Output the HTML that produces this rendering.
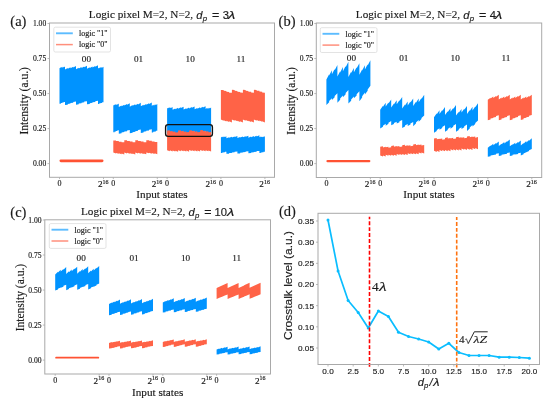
<!DOCTYPE html>
<html><head><meta charset="utf-8"><style>
html,body{margin:0;padding:0;background:#fff;}
svg{display:block;}
text{stroke:#1a1a1a;stroke-width:0.15px;}
</style></head><body>
<svg style="will-change:transform" width="550" height="406" viewBox="0 0 550 406">
<rect width="550" height="406" fill="#fff"/>
<path d="M59.5,68.2 L60.87,67.15 L60.88,67.85 L62.25,66.81 L62.25,67.81 L63.62,66.76 L63.63,67.46 L65,66.41 L65,69.61 L67.75,68.12 L67.75,68.82 L70.5,67.33 L70.5,68.32 L73.25,66.83 L73.25,67.53 L76,66.04 L76,69.24 L78.75,67.74 L78.75,68.44 L81.5,66.95 L81.5,67.95 L84.25,66.46 L84.25,67.16 L87,65.66 L87,68.86 L89.75,67.37 L89.75,68.07 L92.5,66.58 L92.5,67.57 L95.25,66.08 L95.25,66.78 L98,65.29 L98,68.49 L99.37,67.44 L99.38,68.14 L100.75,67.09 L100.75,68.09 L102.12,67.05 L102.13,67.75 L103.5,66.7 L103.5,102.2 L102.13,102.2 L102.12,102.9 L100.75,102.89 L100.75,103.29 L99.38,103.29 L99.37,103.99 L98,103.99 L98,100.79 L95.25,101.23 L95.25,101.93 L92.5,102.37 L92.5,102.78 L89.75,103.22 L89.75,103.92 L87,104.36 L87,101.16 L84.25,101.61 L84.25,102.31 L81.5,102.75 L81.5,103.15 L78.75,103.59 L78.75,104.29 L76,104.74 L76,101.54 L73.25,101.98 L73.25,102.68 L70.5,103.12 L70.5,103.53 L67.75,103.97 L67.75,104.67 L65,105.11 L65,101.91 L63.63,101.91 L63.62,102.61 L62.25,102.61 L62.25,103.01 L60.88,103 L60.87,103.7 L59.5,103.7Z" fill="#0093ff"/>
<rect x="59.5" y="159.4" width="44" height="2.8" rx="1.4" fill="#ff5233"/>
<path d="M113.3,105.5 L114.67,104.43 L114.68,105.13 L116.05,104.06 L116.05,105.06 L117.42,103.98 L117.43,104.68 L118.8,103.61 L118.8,107.01 L121.55,105.47 L121.55,106.17 L124.3,104.63 L124.3,105.62 L127.05,104.08 L127.05,104.78 L129.8,103.24 L129.8,106.64 L132.55,105.09 L132.55,105.79 L135.3,104.25 L135.3,105.25 L138.05,103.71 L138.05,104.41 L140.8,102.86 L140.8,106.26 L143.55,104.72 L143.55,105.42 L146.3,103.88 L146.3,104.87 L149.05,103.33 L149.05,104.03 L151.8,102.49 L151.8,105.89 L153.17,104.82 L153.18,105.52 L154.55,104.44 L154.55,105.44 L155.92,104.37 L155.93,105.07 L157.3,104 L157.3,130.7 L155.93,130.72 L155.92,131.42 L154.55,131.44 L154.55,131.84 L153.18,131.87 L153.17,132.57 L151.8,132.59 L151.8,129.19 L149.05,129.68 L149.05,130.38 L146.3,130.87 L146.3,131.28 L143.55,131.77 L143.55,132.47 L140.8,132.96 L140.8,129.56 L138.05,130.06 L138.05,130.76 L135.3,131.25 L135.3,131.65 L132.55,132.14 L132.55,132.84 L129.8,133.34 L129.8,129.94 L127.05,130.43 L127.05,131.13 L124.3,131.62 L124.3,132.03 L121.55,132.52 L121.55,133.22 L118.8,133.71 L118.8,130.31 L117.43,130.33 L117.42,131.03 L116.05,131.06 L116.05,131.46 L114.68,131.48 L114.67,132.18 L113.3,132.2Z" fill="#0093ff"/>
<path d="M113.3,140.4 L116.05,140.43 L116.05,141.03 L118.8,141.06 L118.8,141.66 L121.55,141.69 L121.55,142.29 L124.3,142.32 L124.3,140.33 L127.05,140.36 L127.05,140.96 L129.8,140.99 L129.8,141.59 L132.55,141.62 L132.55,142.22 L135.3,142.25 L135.3,140.25 L138.05,140.28 L138.05,140.88 L140.8,140.91 L140.8,141.51 L143.55,141.54 L143.55,142.14 L146.3,142.17 L146.3,140.18 L149.05,140.21 L149.05,140.81 L151.8,140.84 L151.8,141.44 L154.55,141.47 L154.55,142.07 L157.3,142.1 L157.3,154.3 L154.55,153.37 L154.55,153.97 L151.8,153.04 L151.8,153.64 L149.05,152.71 L149.05,153.31 L146.3,152.38 L146.3,154.37 L143.55,153.44 L143.55,154.04 L140.8,153.11 L140.8,153.71 L138.05,152.78 L138.05,153.38 L135.3,152.45 L135.3,154.45 L132.55,153.52 L132.55,154.12 L129.8,153.19 L129.8,153.79 L127.05,152.86 L127.05,153.46 L124.3,152.53 L124.3,154.52 L121.55,153.59 L121.55,154.19 L118.8,153.26 L118.8,153.86 L116.05,152.93 L116.05,153.53 L113.3,152.6Z" fill="#ff6347"/>
<path d="M167.1,108.5 L168.47,107.49 L168.48,108.19 L169.85,107.19 L169.85,108.19 L171.22,107.18 L171.23,107.88 L172.6,106.88 L172.6,109.87 L175.35,108.46 L175.35,109.16 L178.1,107.75 L178.1,108.75 L180.85,107.34 L180.85,108.04 L183.6,106.63 L183.6,109.62 L186.35,108.21 L186.35,108.91 L189.1,107.5 L189.1,108.5 L191.85,107.09 L191.85,107.79 L194.6,106.38 L194.6,109.37 L197.35,107.96 L197.35,108.66 L200.1,107.25 L200.1,108.25 L202.85,106.84 L202.85,107.54 L205.6,106.13 L205.6,109.12 L206.97,108.12 L206.98,108.82 L208.35,107.81 L208.35,108.81 L209.72,107.81 L209.73,108.51 L211.1,107.5 L211.1,132.7 L209.73,132.66 L209.72,133.36 L208.35,133.31 L208.35,133.71 L206.98,133.67 L206.97,134.37 L205.6,134.33 L205.6,131.33 L202.85,131.69 L202.85,132.39 L200.1,132.75 L200.1,133.15 L197.35,133.51 L197.35,134.21 L194.6,134.57 L194.6,131.58 L191.85,131.94 L191.85,132.64 L189.1,133 L189.1,133.4 L186.35,133.76 L186.35,134.46 L183.6,134.82 L183.6,131.83 L180.85,132.19 L180.85,132.89 L178.1,133.25 L178.1,133.65 L175.35,134.01 L175.35,134.71 L172.6,135.07 L172.6,132.07 L171.23,132.03 L171.22,132.73 L169.85,132.69 L169.85,133.09 L168.48,133.04 L168.47,133.74 L167.1,133.7Z" fill="#0093ff"/>
<path d="M167.1,130.6 L169.85,130.31 L169.85,131.21 L172.6,130.91 L172.6,131.81 L175.35,131.52 L175.35,132.42 L178.1,132.13 L178.1,130.52 L180.85,130.23 L180.85,131.13 L183.6,130.84 L183.6,131.74 L186.35,131.44 L186.35,132.34 L189.1,132.05 L189.1,130.45 L191.85,130.16 L191.85,131.06 L194.6,130.76 L194.6,131.66 L197.35,131.37 L197.35,132.27 L200.1,131.98 L200.1,130.37 L202.85,130.08 L202.85,130.98 L205.6,130.69 L205.6,131.59 L208.35,131.29 L208.35,132.19 L211.1,131.9 L211.1,151.5 L208.35,150.44 L208.35,151.34 L205.6,150.29 L205.6,151.19 L202.85,150.13 L202.85,151.03 L200.1,149.98 L200.1,151.57 L197.35,150.52 L197.35,151.42 L194.6,150.36 L194.6,151.26 L191.85,150.21 L191.85,151.11 L189.1,150.05 L189.1,151.65 L186.35,150.59 L186.35,151.49 L183.6,150.44 L183.6,151.34 L180.85,150.28 L180.85,151.18 L178.1,150.13 L178.1,151.72 L175.35,150.67 L175.35,151.57 L172.6,150.51 L172.6,151.41 L169.85,150.36 L169.85,151.26 L167.1,150.2Z" fill="#ff6347"/>
<path d="M220.9,89.9 L223.65,90.11 L223.65,90.81 L226.4,91.02 L226.4,91.73 L229.15,91.94 L229.15,92.64 L231.9,92.85 L231.9,89.85 L234.65,90.06 L234.65,90.76 L237.4,90.97 L237.4,91.68 L240.15,91.89 L240.15,92.59 L242.9,92.8 L242.9,89.8 L245.65,90.01 L245.65,90.71 L248.4,90.92 L248.4,91.63 L251.15,91.84 L251.15,92.54 L253.9,92.75 L253.9,89.75 L256.65,89.96 L256.65,90.66 L259.4,90.87 L259.4,91.58 L262.15,91.79 L262.15,92.49 L264.9,92.7 L264.9,122.4 L262.15,121.14 L262.15,121.84 L259.4,120.58 L259.4,121.27 L256.65,120.01 L256.65,120.71 L253.9,119.45 L253.9,122.45 L251.15,121.19 L251.15,121.89 L248.4,120.63 L248.4,121.32 L245.65,120.06 L245.65,120.76 L242.9,119.5 L242.9,122.5 L240.15,121.24 L240.15,121.94 L237.4,120.68 L237.4,121.37 L234.65,120.11 L234.65,120.81 L231.9,119.55 L231.9,122.55 L229.15,121.29 L229.15,121.99 L226.4,120.73 L226.4,121.42 L223.65,120.16 L223.65,120.86 L220.9,119.6Z" fill="#ff6347"/>
<path d="M220.9,137.4 L222.27,136.61 L222.28,137.21 L223.65,136.43 L223.65,137.22 L225.02,136.44 L225.03,137.04 L226.4,136.25 L226.4,138.25 L229.15,137.18 L229.15,137.77 L231.9,136.7 L231.9,137.5 L234.65,136.43 L234.65,137.02 L237.4,135.95 L237.4,137.95 L240.15,136.88 L240.15,137.47 L242.9,136.4 L242.9,137.2 L245.65,136.13 L245.65,136.72 L248.4,135.65 L248.4,137.65 L251.15,136.58 L251.15,137.17 L253.9,136.1 L253.9,136.9 L256.65,135.83 L256.65,136.42 L259.4,135.35 L259.4,137.35 L260.77,136.56 L260.78,137.16 L262.15,136.38 L262.15,137.17 L263.52,136.39 L263.53,136.99 L264.9,136.2 L264.9,151.8 L263.53,151.69 L263.52,152.29 L262.15,152.18 L262.15,152.57 L260.78,152.46 L260.77,153.06 L259.4,152.95 L259.4,150.95 L256.65,151.12 L256.65,151.73 L253.9,151.9 L253.9,152.3 L251.15,152.47 L251.15,153.08 L248.4,153.25 L248.4,151.25 L245.65,151.42 L245.65,152.03 L242.9,152.2 L242.9,152.6 L240.15,152.77 L240.15,153.38 L237.4,153.55 L237.4,151.55 L234.65,151.72 L234.65,152.33 L231.9,152.5 L231.9,152.9 L229.15,153.07 L229.15,153.68 L226.4,153.85 L226.4,151.85 L225.03,151.74 L225.02,152.34 L223.65,152.23 L223.65,152.62 L222.28,152.51 L222.27,153.11 L220.9,153Z" fill="#0093ff"/>
<rect x="165.6" y="124.6" width="46.8" height="11.8" rx="2.6" fill="none" stroke="#111" stroke-width="1.4"/>
<rect x="49.5" y="23" width="225" height="154.3" fill="none" stroke="#a9a9a9" stroke-width="1"/>
<line x1="47.5" y1="163.6" x2="49.5" y2="163.6" stroke="#a9a9a9" stroke-width="0.8"/>
<text x="46.2" y="166.1" font-family="'Liberation Serif', serif" font-size="7.6" text-anchor="end" font-style="normal" fill="#1a1a1a" >0.00</text>
<line x1="47.5" y1="128.57" x2="49.5" y2="128.57" stroke="#a9a9a9" stroke-width="0.8"/>
<text x="46.2" y="131.07" font-family="'Liberation Serif', serif" font-size="7.6" text-anchor="end" font-style="normal" fill="#1a1a1a" >0.25</text>
<line x1="47.5" y1="93.55" x2="49.5" y2="93.55" stroke="#a9a9a9" stroke-width="0.8"/>
<text x="46.2" y="96.05" font-family="'Liberation Serif', serif" font-size="7.6" text-anchor="end" font-style="normal" fill="#1a1a1a" >0.50</text>
<line x1="47.5" y1="58.53" x2="49.5" y2="58.53" stroke="#a9a9a9" stroke-width="0.8"/>
<text x="46.2" y="61.03" font-family="'Liberation Serif', serif" font-size="7.6" text-anchor="end" font-style="normal" fill="#1a1a1a" >0.75</text>
<line x1="47.5" y1="23.5" x2="49.5" y2="23.5" stroke="#a9a9a9" stroke-width="0.8"/>
<text x="46.2" y="26" font-family="'Liberation Serif', serif" font-size="7.6" text-anchor="end" font-style="normal" fill="#1a1a1a" >1.00</text>
<line x1="59.5" y1="177.3" x2="59.5" y2="179.1" stroke="#a9a9a9" stroke-width="0.8"/>
<line x1="103.5" y1="177.3" x2="103.5" y2="179.1" stroke="#a9a9a9" stroke-width="0.8"/>
<text x="59.5" y="186.1" font-family="'Liberation Serif', serif" font-size="8" text-anchor="middle" font-style="normal" fill="#1a1a1a" >0</text>
<text x="97.9" y="187.1" font-family="'Liberation Serif', serif" font-size="9.2" fill="#1a1a1a">2<tspan font-size="6" dy="-3.6">16</tspan></text>
<line x1="113.3" y1="177.3" x2="113.3" y2="179.1" stroke="#a9a9a9" stroke-width="0.8"/>
<line x1="157.3" y1="177.3" x2="157.3" y2="179.1" stroke="#a9a9a9" stroke-width="0.8"/>
<text x="113.3" y="186.1" font-family="'Liberation Serif', serif" font-size="8" text-anchor="middle" font-style="normal" fill="#1a1a1a" >0</text>
<text x="151.7" y="187.1" font-family="'Liberation Serif', serif" font-size="9.2" fill="#1a1a1a">2<tspan font-size="6" dy="-3.6">16</tspan></text>
<line x1="167.1" y1="177.3" x2="167.1" y2="179.1" stroke="#a9a9a9" stroke-width="0.8"/>
<line x1="211.1" y1="177.3" x2="211.1" y2="179.1" stroke="#a9a9a9" stroke-width="0.8"/>
<text x="167.1" y="186.1" font-family="'Liberation Serif', serif" font-size="8" text-anchor="middle" font-style="normal" fill="#1a1a1a" >0</text>
<text x="205.5" y="187.1" font-family="'Liberation Serif', serif" font-size="9.2" fill="#1a1a1a">2<tspan font-size="6" dy="-3.6">16</tspan></text>
<line x1="220.9" y1="177.3" x2="220.9" y2="179.1" stroke="#a9a9a9" stroke-width="0.8"/>
<line x1="264.9" y1="177.3" x2="264.9" y2="179.1" stroke="#a9a9a9" stroke-width="0.8"/>
<text x="220.9" y="186.1" font-family="'Liberation Serif', serif" font-size="8" text-anchor="middle" font-style="normal" fill="#1a1a1a" >0</text>
<text x="259.3" y="187.1" font-family="'Liberation Serif', serif" font-size="9.2" fill="#1a1a1a">2<tspan font-size="6" dy="-3.6">16</tspan></text>
<text x="81.8" y="61.7" font-family="'Liberation Serif', serif" font-size="9.2" text-anchor="start" font-style="normal" fill="#1a1a1a" >00</text>
<text x="134" y="61.7" font-family="'Liberation Serif', serif" font-size="9.2" text-anchor="start" font-style="normal" fill="#1a1a1a" >01</text>
<text x="185.6" y="61.7" font-family="'Liberation Serif', serif" font-size="9.2" text-anchor="start" font-style="normal" fill="#1a1a1a" >10</text>
<text x="236.6" y="61.7" font-family="'Liberation Serif', serif" font-size="9.2" text-anchor="start" font-style="normal" fill="#1a1a1a" >11</text>
<text x="10.3" y="26" font-family="'Liberation Serif', serif" font-size="14.5" text-anchor="start" font-style="normal" fill="#1a1a1a" >(a)</text>
<text x="88.8" y="18.2" font-family="'Liberation Serif', serif" font-size="11.2" text-anchor="start" font-style="normal" fill="#1a1a1a" >Logic pixel M=2, N=2,</text>
<text x="196.3" y="18.6" font-family="'Liberation Sans', sans-serif" font-size="11.2" text-anchor="start" font-style="italic" fill="#1a1a1a" >d</text>
<text x="202.8" y="21.1" font-family="'Liberation Sans', sans-serif" font-size="7.8" text-anchor="start" font-style="italic" fill="#1a1a1a" >p</text>
<text x="212" y="18.7" font-family="'Liberation Sans', sans-serif" font-size="11.2" fill="#1a1a1a" textLength="7.3" lengthAdjust="spacingAndGlyphs">=</text>
<text x="222.8" y="18.7" font-family="'Liberation Sans', sans-serif" font-size="11.2" text-anchor="start" font-style="normal" fill="#1a1a1a" >3</text>
<text x="228.1" y="18.7" font-family="'Liberation Sans', sans-serif" font-size="11.2" font-style="italic" fill="#1a1a1a" textLength="7.3" lengthAdjust="spacingAndGlyphs">λ</text>
<text x="0" y="0" transform="translate(28.2,100.85) rotate(-90)" font-family="'Liberation Serif', serif" font-size="11.5" text-anchor="middle" fill="#1a1a1a">Intensity (a.u.)</text>
<text x="162" y="198.1" font-family="'Liberation Serif', serif" font-size="11.2" text-anchor="middle" font-style="normal" fill="#1a1a1a" >Input states</text>
<rect x="53.8" y="27.2" width="56.7" height="24.8" rx="1.5" fill="#fff" fill-opacity="0.8" stroke="#dcdcdc" stroke-width="0.8"/>
<line x1="56" y1="33.3" x2="72.8" y2="33.3" stroke="#5cbcff" stroke-width="1.9"/>
<line x1="56" y1="44.6" x2="72.8" y2="44.6" stroke="#ff8f7c" stroke-width="1.5"/>
<text x="79" y="36.4" font-family="'Liberation Serif', serif" font-size="8" text-anchor="start" font-style="normal" fill="#1a1a1a" >logic "1"</text>
<text x="79" y="47.4" font-family="'Liberation Serif', serif" font-size="8" text-anchor="start" font-style="normal" fill="#1a1a1a" >logic "0"</text>
<path d="M326.4,79.6 L329.15,74.28 L329.15,75.47 L331.9,70.15 L331.9,74.35 L334.65,69.03 L334.65,70.22 L337.4,64.9 L337.4,76.6 L340.15,71.25 L340.15,72.45 L342.9,67.1 L342.9,71.3 L345.65,65.95 L345.65,67.15 L348.4,61.8 L348.4,76.9 L351.15,71.85 L351.15,73.05 L353.9,68 L353.9,72.2 L356.65,67.15 L356.65,68.35 L359.4,63.3 L359.4,74.7 L362.15,69.43 L362.15,70.62 L364.9,65.35 L364.9,69.55 L367.65,64.28 L367.65,65.47 L370.4,60.2 L370.4,85.7 L367.65,89.45 L367.65,90.65 L364.9,94.4 L364.9,92.6 L362.15,96.35 L362.15,97.55 L359.4,101.3 L359.4,91.3 L356.65,94.22 L356.65,95.43 L353.9,98.35 L353.9,96.55 L351.15,99.47 L351.15,100.68 L348.4,103.6 L348.4,90 L345.65,93.02 L345.65,94.23 L342.9,97.25 L342.9,95.45 L340.15,98.47 L340.15,99.68 L337.4,102.7 L337.4,93.2 L334.65,96 L334.65,97.2 L331.9,100 L331.9,98.2 L329.15,101 L329.15,102.2 L326.4,105Z" fill="#0093ff"/>
<rect x="326.4" y="159.9" width="44" height="2.4" rx="1.2" fill="#ff5233"/>
<path d="M380.2,109.8 L382.95,105.78 L382.95,106.77 L385.7,102.75 L385.7,106.55 L388.45,102.53 L388.45,103.52 L391.2,99.5 L391.2,107.4 L393.95,103.38 L393.95,104.37 L396.7,100.35 L396.7,104.15 L399.45,100.13 L399.45,101.12 L402.2,97.1 L402.2,108.4 L404.95,104.5 L404.95,105.5 L407.7,101.6 L407.7,105.4 L410.45,101.5 L410.45,102.5 L413.2,98.6 L413.2,106 L415.95,101.75 L415.95,102.75 L418.7,98.5 L418.7,102.3 L421.45,98.05 L421.45,99.05 L424.2,94.8 L424.2,115.4 L421.45,118.05 L421.45,119.05 L418.7,121.7 L418.7,119.9 L415.95,122.55 L415.95,123.55 L413.2,126.2 L413.2,122 L410.45,123.45 L410.45,124.45 L407.7,125.9 L407.7,124.1 L404.95,125.55 L404.95,126.55 L402.2,128 L402.2,120.1 L399.45,121.32 L399.45,122.33 L396.7,123.55 L396.7,121.75 L393.95,122.97 L393.95,123.98 L391.2,125.2 L391.2,121 L388.45,122.82 L388.45,123.83 L385.7,125.65 L385.7,123.85 L382.95,125.67 L382.95,126.68 L380.2,128.5Z" fill="#0093ff"/>
<path d="M380.2,146.8 L382.95,146.21 L382.95,147.41 L385.7,146.83 L385.7,147.22 L388.45,146.64 L388.45,147.84 L391.2,147.25 L391.2,146.05 L393.95,145.46 L393.95,146.66 L396.7,146.08 L396.7,146.47 L399.45,145.89 L399.45,147.09 L402.2,146.5 L402.2,145.3 L404.95,144.71 L404.95,145.91 L407.7,145.33 L407.7,145.72 L410.45,145.14 L410.45,146.34 L413.2,145.75 L413.2,144.55 L415.95,143.96 L415.95,145.16 L418.7,144.58 L418.7,144.97 L421.45,144.39 L421.45,145.59 L424.2,145 L424.2,153.6 L421.45,152.39 L421.45,153.59 L418.7,152.38 L418.7,154.37 L415.95,153.16 L415.95,154.36 L413.2,153.15 L413.2,154.35 L410.45,153.14 L410.45,154.34 L407.7,153.13 L407.7,155.12 L404.95,153.91 L404.95,155.11 L402.2,153.9 L402.2,155.1 L399.45,153.89 L399.45,155.09 L396.7,153.88 L396.7,155.87 L393.95,154.66 L393.95,155.86 L391.2,154.65 L391.2,155.85 L388.45,154.64 L388.45,155.84 L385.7,154.63 L385.7,156.62 L382.95,155.41 L382.95,156.61 L380.2,155.4Z" fill="#ff6347"/>
<path d="M434,117.3 L436.75,113.33 L436.75,114.32 L439.5,110.35 L439.5,113.95 L442.25,109.98 L442.25,110.97 L445,107 L445,115 L447.75,111.13 L447.75,112.12 L450.5,108.25 L450.5,111.85 L453.25,107.98 L453.25,108.97 L456,105.1 L456,115.4 L458.75,111.68 L458.75,112.67 L461.5,108.95 L461.5,112.55 L464.25,108.83 L464.25,109.82 L467,106.1 L467,114 L469.75,109.93 L469.75,110.92 L472.5,106.85 L472.5,110.45 L475.25,106.38 L475.25,107.37 L478,103.3 L478,120.6 L475.25,123.07 L475.25,124.08 L472.5,126.55 L472.5,124.95 L469.75,127.42 L469.75,128.43 L467,130.9 L467,124.5 L464.25,126.22 L464.25,127.23 L461.5,128.95 L461.5,127.35 L458.75,129.07 L458.75,130.08 L456,131.8 L456,123.9 L453.25,125.77 L453.25,126.78 L450.5,128.65 L450.5,127.05 L447.75,128.92 L447.75,129.93 L445,131.8 L445,125.3 L442.25,127.07 L442.25,128.08 L439.5,129.85 L439.5,128.25 L436.75,130.02 L436.75,131.03 L434,132.8Z" fill="#0093ff"/>
<path d="M434,138.6 L436.75,138.05 L436.75,139.25 L439.5,138.7 L439.5,139.1 L442.25,138.55 L442.25,139.75 L445,139.2 L445,137.9 L447.75,137.35 L447.75,138.55 L450.5,138 L450.5,138.4 L453.25,137.85 L453.25,139.05 L456,138.5 L456,137.2 L458.75,136.65 L458.75,137.85 L461.5,137.3 L461.5,137.7 L464.25,137.15 L464.25,138.35 L467,137.8 L467,136.5 L469.75,135.95 L469.75,137.15 L472.5,136.6 L472.5,137 L475.25,136.45 L475.25,137.65 L478,137.1 L478,149.2 L475.25,147.95 L475.25,149.15 L472.5,147.9 L472.5,149.9 L469.75,148.65 L469.75,149.85 L467,148.6 L467,149.9 L464.25,148.65 L464.25,149.85 L461.5,148.6 L461.5,150.6 L458.75,149.35 L458.75,150.55 L456,149.3 L456,150.6 L453.25,149.35 L453.25,150.55 L450.5,149.3 L450.5,151.3 L447.75,150.05 L447.75,151.25 L445,150 L445,151.3 L442.25,150.05 L442.25,151.25 L439.5,150 L439.5,152 L436.75,150.75 L436.75,151.95 L434,150.7Z" fill="#ff6347"/>
<path d="M487.8,99.8 L490.55,97.73 L490.55,98.62 L493.3,96.55 L493.3,98.05 L496.05,95.98 L496.05,96.87 L498.8,94.8 L498.8,99.6 L501.55,97.58 L501.55,98.47 L504.3,96.45 L504.3,97.95 L507.05,95.93 L507.05,96.82 L509.8,94.8 L509.8,99.6 L512.55,97.58 L512.55,98.47 L515.3,96.45 L515.3,97.95 L518.05,95.93 L518.05,96.82 L520.8,94.8 L520.8,99.5 L523.55,97.5 L523.55,98.4 L526.3,96.4 L526.3,97.9 L529.05,95.9 L529.05,96.8 L531.8,94.8 L531.8,115 L529.05,115.72 L529.05,116.63 L526.3,117.35 L526.3,117.65 L523.55,118.37 L523.55,119.28 L520.8,120 L520.8,115.3 L518.05,116 L518.05,116.9 L515.3,117.6 L515.3,117.9 L512.55,118.6 L512.55,119.5 L509.8,120.2 L509.8,115.3 L507.05,116 L507.05,116.9 L504.3,117.6 L504.3,117.9 L501.55,118.6 L501.55,119.5 L498.8,120.2 L498.8,115.3 L496.05,116 L496.05,116.9 L493.3,117.6 L493.3,117.9 L490.55,118.6 L490.55,119.5 L487.8,120.2Z" fill="#ff6347"/>
<path d="M487.8,147.7 L490.55,145.4 L490.55,146.1 L493.3,143.8 L493.3,145.3 L496.05,143 L496.05,143.7 L498.8,141.4 L498.8,146 L501.55,143.65 L501.55,144.35 L504.3,142 L504.3,143.5 L507.05,141.15 L507.05,141.85 L509.8,139.5 L509.8,146.3 L512.55,144.13 L512.55,144.82 L515.3,142.65 L515.3,144.15 L518.05,141.98 L518.05,142.67 L520.8,140.5 L520.8,145.5 L523.55,142.95 L523.55,143.65 L526.3,141.1 L526.3,142.6 L529.05,140.05 L529.05,140.75 L531.8,138.2 L531.8,149 L529.05,150.3 L529.05,151 L526.3,152.3 L526.3,152.2 L523.55,153.5 L523.55,154.2 L520.8,155.5 L520.8,152.8 L518.05,153.27 L518.05,153.98 L515.3,154.45 L515.3,154.35 L512.55,154.82 L512.55,155.53 L509.8,156 L509.8,152.5 L507.05,153.05 L507.05,153.75 L504.3,154.3 L504.3,154.2 L501.55,154.75 L501.55,155.45 L498.8,156 L498.8,153.2 L496.05,153.77 L496.05,154.48 L493.3,155.05 L493.3,154.95 L490.55,155.52 L490.55,156.23 L487.8,156.8Z" fill="#0093ff"/>
<rect x="316.3" y="23" width="225.4" height="154.5" fill="none" stroke="#a9a9a9" stroke-width="1"/>
<line x1="314.3" y1="163.6" x2="316.3" y2="163.6" stroke="#a9a9a9" stroke-width="0.8"/>
<text x="313" y="166.1" font-family="'Liberation Serif', serif" font-size="7.6" text-anchor="end" font-style="normal" fill="#1a1a1a" >0.00</text>
<line x1="314.3" y1="128.57" x2="316.3" y2="128.57" stroke="#a9a9a9" stroke-width="0.8"/>
<text x="313" y="131.07" font-family="'Liberation Serif', serif" font-size="7.6" text-anchor="end" font-style="normal" fill="#1a1a1a" >0.25</text>
<line x1="314.3" y1="93.55" x2="316.3" y2="93.55" stroke="#a9a9a9" stroke-width="0.8"/>
<text x="313" y="96.05" font-family="'Liberation Serif', serif" font-size="7.6" text-anchor="end" font-style="normal" fill="#1a1a1a" >0.50</text>
<line x1="314.3" y1="58.53" x2="316.3" y2="58.53" stroke="#a9a9a9" stroke-width="0.8"/>
<text x="313" y="61.03" font-family="'Liberation Serif', serif" font-size="7.6" text-anchor="end" font-style="normal" fill="#1a1a1a" >0.75</text>
<line x1="314.3" y1="23.5" x2="316.3" y2="23.5" stroke="#a9a9a9" stroke-width="0.8"/>
<text x="313" y="26" font-family="'Liberation Serif', serif" font-size="7.6" text-anchor="end" font-style="normal" fill="#1a1a1a" >1.00</text>
<line x1="326.4" y1="177.5" x2="326.4" y2="179.3" stroke="#a9a9a9" stroke-width="0.8"/>
<line x1="370.4" y1="177.5" x2="370.4" y2="179.3" stroke="#a9a9a9" stroke-width="0.8"/>
<text x="326.4" y="186.3" font-family="'Liberation Serif', serif" font-size="8" text-anchor="middle" font-style="normal" fill="#1a1a1a" >0</text>
<text x="364.8" y="187.3" font-family="'Liberation Serif', serif" font-size="9.2" fill="#1a1a1a">2<tspan font-size="6" dy="-3.6">16</tspan></text>
<line x1="380.2" y1="177.5" x2="380.2" y2="179.3" stroke="#a9a9a9" stroke-width="0.8"/>
<line x1="424.2" y1="177.5" x2="424.2" y2="179.3" stroke="#a9a9a9" stroke-width="0.8"/>
<text x="380.2" y="186.3" font-family="'Liberation Serif', serif" font-size="8" text-anchor="middle" font-style="normal" fill="#1a1a1a" >0</text>
<text x="418.6" y="187.3" font-family="'Liberation Serif', serif" font-size="9.2" fill="#1a1a1a">2<tspan font-size="6" dy="-3.6">16</tspan></text>
<line x1="434" y1="177.5" x2="434" y2="179.3" stroke="#a9a9a9" stroke-width="0.8"/>
<line x1="478" y1="177.5" x2="478" y2="179.3" stroke="#a9a9a9" stroke-width="0.8"/>
<text x="434" y="186.3" font-family="'Liberation Serif', serif" font-size="8" text-anchor="middle" font-style="normal" fill="#1a1a1a" >0</text>
<text x="472.4" y="187.3" font-family="'Liberation Serif', serif" font-size="9.2" fill="#1a1a1a">2<tspan font-size="6" dy="-3.6">16</tspan></text>
<line x1="487.8" y1="177.5" x2="487.8" y2="179.3" stroke="#a9a9a9" stroke-width="0.8"/>
<line x1="531.8" y1="177.5" x2="531.8" y2="179.3" stroke="#a9a9a9" stroke-width="0.8"/>
<text x="487.8" y="186.3" font-family="'Liberation Serif', serif" font-size="8" text-anchor="middle" font-style="normal" fill="#1a1a1a" >0</text>
<text x="526.2" y="187.3" font-family="'Liberation Serif', serif" font-size="9.2" fill="#1a1a1a">2<tspan font-size="6" dy="-3.6">16</tspan></text>
<text x="346.8" y="61.3" font-family="'Liberation Serif', serif" font-size="9.2" text-anchor="start" font-style="normal" fill="#1a1a1a" >00</text>
<text x="399.2" y="61.3" font-family="'Liberation Serif', serif" font-size="9.2" text-anchor="start" font-style="normal" fill="#1a1a1a" >01</text>
<text x="450.6" y="61.3" font-family="'Liberation Serif', serif" font-size="9.2" text-anchor="start" font-style="normal" fill="#1a1a1a" >10</text>
<text x="501.6" y="61.3" font-family="'Liberation Serif', serif" font-size="9.2" text-anchor="start" font-style="normal" fill="#1a1a1a" >11</text>
<text x="278.6" y="26" font-family="'Liberation Serif', serif" font-size="14.5" text-anchor="start" font-style="normal" fill="#1a1a1a" >(b)</text>
<text x="355.8" y="18.2" font-family="'Liberation Serif', serif" font-size="11.2" text-anchor="start" font-style="normal" fill="#1a1a1a" >Logic pixel M=2, N=2,</text>
<text x="463.3" y="18.6" font-family="'Liberation Sans', sans-serif" font-size="11.2" text-anchor="start" font-style="italic" fill="#1a1a1a" >d</text>
<text x="469.8" y="21.1" font-family="'Liberation Sans', sans-serif" font-size="7.8" text-anchor="start" font-style="italic" fill="#1a1a1a" >p</text>
<text x="479" y="18.7" font-family="'Liberation Sans', sans-serif" font-size="11.2" fill="#1a1a1a" textLength="7.3" lengthAdjust="spacingAndGlyphs">=</text>
<text x="489.8" y="18.7" font-family="'Liberation Sans', sans-serif" font-size="11.2" text-anchor="start" font-style="normal" fill="#1a1a1a" >4</text>
<text x="495.1" y="18.7" font-family="'Liberation Sans', sans-serif" font-size="11.2" font-style="italic" fill="#1a1a1a" textLength="7.3" lengthAdjust="spacingAndGlyphs">λ</text>
<text x="0" y="0" transform="translate(294.6,100.95) rotate(-90)" font-family="'Liberation Serif', serif" font-size="11.5" text-anchor="middle" fill="#1a1a1a">Intensity (a.u.)</text>
<text x="429" y="198.1" font-family="'Liberation Serif', serif" font-size="11.2" text-anchor="middle" font-style="normal" fill="#1a1a1a" >Input states</text>
<rect x="320.3" y="27.7" width="56.7" height="24.8" rx="1.5" fill="#fff" fill-opacity="0.8" stroke="#dcdcdc" stroke-width="0.8"/>
<line x1="322.5" y1="33.8" x2="339.3" y2="33.8" stroke="#5cbcff" stroke-width="1.9"/>
<line x1="322.5" y1="45.1" x2="339.3" y2="45.1" stroke="#ff8f7c" stroke-width="1.5"/>
<text x="345.5" y="36.9" font-family="'Liberation Serif', serif" font-size="8" text-anchor="start" font-style="normal" fill="#1a1a1a" >logic "1"</text>
<text x="345.5" y="47.9" font-family="'Liberation Serif', serif" font-size="8" text-anchor="start" font-style="normal" fill="#1a1a1a" >logic "0"</text>
<path d="M55.2,274.4 L57.95,271.71 L57.95,272.51 L60.7,269.81 L60.7,271.61 L63.45,268.92 L63.45,269.72 L66.2,267.03 L66.2,274.02 L68.95,271.33 L68.95,272.13 L71.7,269.44 L71.7,271.24 L74.45,268.54 L74.45,269.34 L77.2,266.65 L77.2,273.65 L79.95,270.96 L79.95,271.76 L82.7,269.06 L82.7,270.86 L85.45,268.17 L85.45,268.97 L88.2,266.28 L88.2,273.27 L90.95,270.58 L90.95,271.38 L93.7,268.69 L93.7,270.49 L96.45,267.79 L96.45,268.59 L99.2,265.9 L99.2,283.6 L96.45,284.72 L96.45,285.52 L93.7,286.64 L93.7,286.44 L90.95,287.56 L90.95,288.36 L88.2,289.47 L88.2,283.98 L85.45,285.09 L85.45,285.89 L82.7,287.01 L82.7,286.81 L79.95,287.93 L79.95,288.73 L77.2,289.85 L77.2,284.35 L74.45,285.47 L74.45,286.27 L71.7,287.39 L71.7,287.19 L68.95,288.31 L68.95,289.11 L66.2,290.22 L66.2,284.73 L63.45,285.84 L63.45,286.64 L60.7,287.76 L60.7,287.56 L57.95,288.68 L57.95,289.48 L55.2,290.6Z" fill="#0093ff"/>
<rect x="55.2" y="356.8" width="44" height="1.8" rx="0.9" fill="#ff5233"/>
<path d="M109,304.1 L111.75,302.44 L111.75,303.04 L114.5,301.38 L114.5,302.27 L117.25,300.61 L117.25,301.21 L120,299.55 L120,303.85 L122.75,302.19 L122.75,302.79 L125.5,301.13 L125.5,302.02 L128.25,300.36 L128.25,300.96 L131,299.3 L131,303.6 L133.75,301.94 L133.75,302.54 L136.5,300.88 L136.5,301.77 L139.25,300.11 L139.25,300.71 L142,299.05 L142,303.35 L144.75,301.69 L144.75,302.29 L147.5,300.63 L147.5,301.52 L150.25,299.86 L150.25,300.46 L153,298.8 L153,311 L150.25,311.49 L150.25,312.09 L147.5,312.57 L147.5,312.88 L144.75,313.36 L144.75,313.96 L142,314.45 L142,311.25 L139.25,311.74 L139.25,312.34 L136.5,312.82 L136.5,313.13 L133.75,313.61 L133.75,314.21 L131,314.7 L131,311.5 L128.25,311.99 L128.25,312.59 L125.5,313.07 L125.5,313.38 L122.75,313.86 L122.75,314.46 L120,314.95 L120,311.75 L117.25,312.24 L117.25,312.84 L114.5,313.32 L114.5,313.63 L111.75,314.11 L111.75,314.71 L109,315.2Z" fill="#0093ff"/>
<path d="M109,343 L111.75,342.12 L111.75,342.52 L114.5,341.64 L114.5,342.04 L117.25,341.16 L117.25,341.56 L120,340.68 L120,342.87 L122.75,341.99 L122.75,342.39 L125.5,341.51 L125.5,341.91 L128.25,341.03 L128.25,341.43 L131,340.55 L131,342.75 L133.75,341.87 L133.75,342.27 L136.5,341.39 L136.5,341.79 L139.25,340.91 L139.25,341.31 L142,340.43 L142,342.62 L144.75,341.74 L144.75,342.14 L147.5,341.26 L147.5,341.66 L150.25,340.78 L150.25,341.18 L153,340.3 L153,345.9 L150.25,346.18 L150.25,346.58 L147.5,346.86 L147.5,347.26 L144.75,347.54 L144.75,347.94 L142,348.22 L142,346.03 L139.25,346.31 L139.25,346.71 L136.5,346.99 L136.5,347.39 L133.75,347.67 L133.75,348.07 L131,348.35 L131,346.15 L128.25,346.43 L128.25,346.83 L125.5,347.11 L125.5,347.51 L122.75,347.79 L122.75,348.19 L120,348.47 L120,346.28 L117.25,346.56 L117.25,346.96 L114.5,347.24 L114.5,347.64 L111.75,347.92 L111.75,348.32 L109,348.6Z" fill="#ff6347"/>
<path d="M162.8,302.5 L165.55,300.91 L165.55,301.51 L168.3,299.93 L168.3,300.82 L171.05,299.24 L171.05,299.84 L173.8,298.25 L173.8,302.25 L176.55,300.66 L176.55,301.26 L179.3,299.68 L179.3,300.57 L182.05,298.99 L182.05,299.59 L184.8,298 L184.8,302 L187.55,300.41 L187.55,301.01 L190.3,299.43 L190.3,300.32 L193.05,298.74 L193.05,299.34 L195.8,297.75 L195.8,301.75 L198.55,300.16 L198.55,300.76 L201.3,299.18 L201.3,300.07 L204.05,298.49 L204.05,299.09 L206.8,297.5 L206.8,308.8 L204.05,309.16 L204.05,309.76 L201.3,310.12 L201.3,310.43 L198.55,310.79 L198.55,311.39 L195.8,311.75 L195.8,309.05 L193.05,309.41 L193.05,310.01 L190.3,310.37 L190.3,310.68 L187.55,311.04 L187.55,311.64 L184.8,312 L184.8,309.3 L182.05,309.66 L182.05,310.26 L179.3,310.62 L179.3,310.93 L176.55,311.29 L176.55,311.89 L173.8,312.25 L173.8,309.55 L171.05,309.91 L171.05,310.51 L168.3,310.87 L168.3,311.18 L165.55,311.54 L165.55,312.14 L162.8,312.5Z" fill="#0093ff"/>
<path d="M162.8,342 L165.55,341.06 L165.55,341.46 L168.3,340.51 L168.3,340.91 L171.05,339.97 L171.05,340.37 L173.8,339.43 L173.8,341.92 L176.55,340.98 L176.55,341.38 L179.3,340.44 L179.3,340.84 L182.05,339.89 L182.05,340.29 L184.8,339.35 L184.8,341.85 L187.55,340.91 L187.55,341.31 L190.3,340.36 L190.3,340.76 L193.05,339.82 L193.05,340.22 L195.8,339.28 L195.8,341.77 L198.55,340.83 L198.55,341.23 L201.3,340.29 L201.3,340.69 L204.05,339.74 L204.05,340.14 L206.8,339.2 L206.8,344.2 L204.05,344.54 L204.05,344.94 L201.3,345.29 L201.3,345.69 L198.55,346.03 L198.55,346.43 L195.8,346.77 L195.8,344.28 L193.05,344.62 L193.05,345.02 L190.3,345.36 L190.3,345.76 L187.55,346.11 L187.55,346.51 L184.8,346.85 L184.8,344.35 L182.05,344.69 L182.05,345.09 L179.3,345.44 L179.3,345.84 L176.55,346.18 L176.55,346.58 L173.8,346.92 L173.8,344.43 L171.05,344.77 L171.05,345.17 L168.3,345.51 L168.3,345.91 L165.55,346.26 L165.55,346.66 L162.8,347Z" fill="#ff6347"/>
<path d="M216.6,288 L219.35,286.74 L219.35,286.74 L222.1,285.48 L222.1,285.47 L224.85,284.21 L224.85,284.21 L227.6,282.95 L227.6,287.95 L230.35,286.69 L230.35,286.69 L233.1,285.43 L233.1,285.42 L235.85,284.16 L235.85,284.16 L238.6,282.9 L238.6,287.9 L241.35,286.64 L241.35,286.64 L244.1,285.38 L244.1,285.37 L246.85,284.11 L246.85,284.11 L249.6,282.85 L249.6,287.85 L252.35,286.59 L252.35,286.59 L255.1,285.33 L255.1,285.32 L257.85,284.06 L257.85,284.06 L260.6,282.8 L260.6,294.3 L257.85,295.44 L257.85,295.44 L255.1,296.57 L255.1,296.58 L252.35,297.71 L252.35,297.71 L249.6,298.85 L249.6,294.35 L246.85,295.49 L246.85,295.49 L244.1,296.62 L244.1,296.63 L241.35,297.76 L241.35,297.76 L238.6,298.9 L238.6,294.4 L235.85,295.54 L235.85,295.54 L233.1,296.67 L233.1,296.68 L230.35,297.81 L230.35,297.81 L227.6,298.95 L227.6,294.45 L224.85,295.59 L224.85,295.59 L222.1,296.72 L222.1,296.73 L219.35,297.86 L219.35,297.86 L216.6,299Z" fill="#ff6347"/>
<path d="M216.6,349.6 L219.35,348.44 L219.35,348.94 L222.1,347.79 L222.1,348.49 L224.85,347.33 L224.85,347.83 L227.6,346.68 L227.6,349.47 L230.35,348.32 L230.35,348.82 L233.1,347.66 L233.1,348.36 L235.85,347.21 L235.85,347.71 L238.6,346.55 L238.6,349.35 L241.35,348.19 L241.35,348.69 L244.1,347.54 L244.1,348.24 L246.85,347.08 L246.85,347.58 L249.6,346.43 L249.6,349.22 L252.35,348.07 L252.35,348.57 L255.1,347.41 L255.1,348.11 L257.85,346.96 L257.85,347.46 L260.6,346.3 L260.6,351.9 L257.85,352.16 L257.85,352.66 L255.1,352.91 L255.1,353.21 L252.35,353.47 L252.35,353.97 L249.6,354.22 L249.6,352.03 L246.85,352.28 L246.85,352.78 L244.1,353.04 L244.1,353.34 L241.35,353.59 L241.35,354.09 L238.6,354.35 L238.6,352.15 L235.85,352.41 L235.85,352.91 L233.1,353.16 L233.1,353.46 L230.35,353.72 L230.35,354.22 L227.6,354.47 L227.6,352.28 L224.85,352.53 L224.85,353.03 L222.1,353.29 L222.1,353.59 L219.35,353.84 L219.35,354.34 L216.6,354.6Z" fill="#0093ff"/>
<rect x="44.8" y="219.8" width="225.7" height="154.2" fill="none" stroke="#a9a9a9" stroke-width="1"/>
<line x1="42.8" y1="360.1" x2="44.8" y2="360.1" stroke="#a9a9a9" stroke-width="0.8"/>
<text x="41.5" y="362.6" font-family="'Liberation Serif', serif" font-size="7.6" text-anchor="end" font-style="normal" fill="#1a1a1a" >0.00</text>
<line x1="42.8" y1="325.08" x2="44.8" y2="325.08" stroke="#a9a9a9" stroke-width="0.8"/>
<text x="41.5" y="327.58" font-family="'Liberation Serif', serif" font-size="7.6" text-anchor="end" font-style="normal" fill="#1a1a1a" >0.25</text>
<line x1="42.8" y1="290.05" x2="44.8" y2="290.05" stroke="#a9a9a9" stroke-width="0.8"/>
<text x="41.5" y="292.55" font-family="'Liberation Serif', serif" font-size="7.6" text-anchor="end" font-style="normal" fill="#1a1a1a" >0.50</text>
<line x1="42.8" y1="255.03" x2="44.8" y2="255.03" stroke="#a9a9a9" stroke-width="0.8"/>
<text x="41.5" y="257.52" font-family="'Liberation Serif', serif" font-size="7.6" text-anchor="end" font-style="normal" fill="#1a1a1a" >0.75</text>
<line x1="42.8" y1="220" x2="44.8" y2="220" stroke="#a9a9a9" stroke-width="0.8"/>
<text x="41.5" y="222.5" font-family="'Liberation Serif', serif" font-size="7.6" text-anchor="end" font-style="normal" fill="#1a1a1a" >1.00</text>
<line x1="55.2" y1="374" x2="55.2" y2="375.8" stroke="#a9a9a9" stroke-width="0.8"/>
<line x1="99.2" y1="374" x2="99.2" y2="375.8" stroke="#a9a9a9" stroke-width="0.8"/>
<text x="55.2" y="382.8" font-family="'Liberation Serif', serif" font-size="8" text-anchor="middle" font-style="normal" fill="#1a1a1a" >0</text>
<text x="93.6" y="383.8" font-family="'Liberation Serif', serif" font-size="9.2" fill="#1a1a1a">2<tspan font-size="6" dy="-3.6">16</tspan></text>
<line x1="109" y1="374" x2="109" y2="375.8" stroke="#a9a9a9" stroke-width="0.8"/>
<line x1="153" y1="374" x2="153" y2="375.8" stroke="#a9a9a9" stroke-width="0.8"/>
<text x="109" y="382.8" font-family="'Liberation Serif', serif" font-size="8" text-anchor="middle" font-style="normal" fill="#1a1a1a" >0</text>
<text x="147.4" y="383.8" font-family="'Liberation Serif', serif" font-size="9.2" fill="#1a1a1a">2<tspan font-size="6" dy="-3.6">16</tspan></text>
<line x1="162.8" y1="374" x2="162.8" y2="375.8" stroke="#a9a9a9" stroke-width="0.8"/>
<line x1="206.8" y1="374" x2="206.8" y2="375.8" stroke="#a9a9a9" stroke-width="0.8"/>
<text x="162.8" y="382.8" font-family="'Liberation Serif', serif" font-size="8" text-anchor="middle" font-style="normal" fill="#1a1a1a" >0</text>
<text x="201.2" y="383.8" font-family="'Liberation Serif', serif" font-size="9.2" fill="#1a1a1a">2<tspan font-size="6" dy="-3.6">16</tspan></text>
<line x1="216.6" y1="374" x2="216.6" y2="375.8" stroke="#a9a9a9" stroke-width="0.8"/>
<line x1="260.6" y1="374" x2="260.6" y2="375.8" stroke="#a9a9a9" stroke-width="0.8"/>
<text x="216.6" y="382.8" font-family="'Liberation Serif', serif" font-size="8" text-anchor="middle" font-style="normal" fill="#1a1a1a" >0</text>
<text x="255" y="383.8" font-family="'Liberation Serif', serif" font-size="9.2" fill="#1a1a1a">2<tspan font-size="6" dy="-3.6">16</tspan></text>
<text x="76.6" y="260.8" font-family="'Liberation Serif', serif" font-size="9.2" text-anchor="start" font-style="normal" fill="#1a1a1a" >00</text>
<text x="129.5" y="260.8" font-family="'Liberation Serif', serif" font-size="9.2" text-anchor="start" font-style="normal" fill="#1a1a1a" >01</text>
<text x="181" y="260.8" font-family="'Liberation Serif', serif" font-size="9.2" text-anchor="start" font-style="normal" fill="#1a1a1a" >10</text>
<text x="232.2" y="260.8" font-family="'Liberation Serif', serif" font-size="9.2" text-anchor="start" font-style="normal" fill="#1a1a1a" >11</text>
<text x="10.3" y="216.6" font-family="'Liberation Serif', serif" font-size="14.5" text-anchor="start" font-style="normal" fill="#1a1a1a" >(c)</text>
<text x="81" y="215.3" font-family="'Liberation Serif', serif" font-size="11.2" text-anchor="start" font-style="normal" fill="#1a1a1a" >Logic pixel M=2, N=2,</text>
<text x="188.5" y="215.7" font-family="'Liberation Sans', sans-serif" font-size="11.2" text-anchor="start" font-style="italic" fill="#1a1a1a" >d</text>
<text x="195" y="218.2" font-family="'Liberation Sans', sans-serif" font-size="7.8" text-anchor="start" font-style="italic" fill="#1a1a1a" >p</text>
<text x="204.2" y="215.8" font-family="'Liberation Sans', sans-serif" font-size="11.2" fill="#1a1a1a" textLength="7.3" lengthAdjust="spacingAndGlyphs">=</text>
<text x="214.5" y="215.8" font-family="'Liberation Sans', sans-serif" font-size="11.2" text-anchor="start" font-style="normal" fill="#1a1a1a" >10</text>
<text x="227" y="215.8" font-family="'Liberation Sans', sans-serif" font-size="11.2" font-style="italic" fill="#1a1a1a" textLength="7.3" lengthAdjust="spacingAndGlyphs">λ</text>
<text x="0" y="0" transform="translate(23.6,297.6) rotate(-90)" font-family="'Liberation Serif', serif" font-size="11.5" text-anchor="middle" fill="#1a1a1a">Intensity (a.u.)</text>
<text x="157.65" y="395.5" font-family="'Liberation Serif', serif" font-size="11.2" text-anchor="middle" font-style="normal" fill="#1a1a1a" >Input states</text>
<rect x="49.3" y="223.6" width="56.7" height="24.8" rx="1.5" fill="#fff" fill-opacity="0.8" stroke="#dcdcdc" stroke-width="0.8"/>
<line x1="51.5" y1="229.7" x2="68.3" y2="229.7" stroke="#5cbcff" stroke-width="1.9"/>
<line x1="51.5" y1="241" x2="68.3" y2="241" stroke="#ff8f7c" stroke-width="1.5"/>
<text x="74.5" y="232.8" font-family="'Liberation Serif', serif" font-size="8" text-anchor="start" font-style="normal" fill="#1a1a1a" >logic "1"</text>
<text x="74.5" y="243.8" font-family="'Liberation Serif', serif" font-size="8" text-anchor="start" font-style="normal" fill="#1a1a1a" >logic "0"</text>
<line x1="316" y1="348" x2="318" y2="348" stroke="#a9a9a9" stroke-width="0.8"/>
<text x="314" y="350.9" font-family="'Liberation Sans', sans-serif" font-size="8" text-anchor="end" fill="#1a1a1a" textLength="16" lengthAdjust="spacingAndGlyphs">0.05</text>
<line x1="316" y1="326.83" x2="318" y2="326.83" stroke="#a9a9a9" stroke-width="0.8"/>
<text x="314" y="329.73" font-family="'Liberation Sans', sans-serif" font-size="8" text-anchor="end" fill="#1a1a1a" textLength="16" lengthAdjust="spacingAndGlyphs">0.10</text>
<line x1="316" y1="305.67" x2="318" y2="305.67" stroke="#a9a9a9" stroke-width="0.8"/>
<text x="314" y="308.57" font-family="'Liberation Sans', sans-serif" font-size="8" text-anchor="end" fill="#1a1a1a" textLength="16" lengthAdjust="spacingAndGlyphs">0.15</text>
<line x1="316" y1="284.5" x2="318" y2="284.5" stroke="#a9a9a9" stroke-width="0.8"/>
<text x="314" y="287.4" font-family="'Liberation Sans', sans-serif" font-size="8" text-anchor="end" fill="#1a1a1a" textLength="16" lengthAdjust="spacingAndGlyphs">0.20</text>
<line x1="316" y1="263.34" x2="318" y2="263.34" stroke="#a9a9a9" stroke-width="0.8"/>
<text x="314" y="266.24" font-family="'Liberation Sans', sans-serif" font-size="8" text-anchor="end" fill="#1a1a1a" textLength="16" lengthAdjust="spacingAndGlyphs">0.25</text>
<line x1="316" y1="242.18" x2="318" y2="242.18" stroke="#a9a9a9" stroke-width="0.8"/>
<text x="314" y="245.08" font-family="'Liberation Sans', sans-serif" font-size="8" text-anchor="end" fill="#1a1a1a" textLength="16" lengthAdjust="spacingAndGlyphs">0.30</text>
<line x1="316" y1="221.01" x2="318" y2="221.01" stroke="#a9a9a9" stroke-width="0.8"/>
<text x="314" y="223.91" font-family="'Liberation Sans', sans-serif" font-size="8" text-anchor="end" fill="#1a1a1a" textLength="16" lengthAdjust="spacingAndGlyphs">0.35</text>
<line x1="328" y1="364.5" x2="328" y2="366.5" stroke="#a9a9a9" stroke-width="0.8"/>
<text x="328" y="374" font-family="'Liberation Sans', sans-serif" font-size="8" text-anchor="middle" fill="#1a1a1a" textLength="11.4" lengthAdjust="spacingAndGlyphs">0.0</text>
<line x1="353.18" y1="364.5" x2="353.18" y2="366.5" stroke="#a9a9a9" stroke-width="0.8"/>
<text x="353.18" y="374" font-family="'Liberation Sans', sans-serif" font-size="8" text-anchor="middle" fill="#1a1a1a" textLength="11.4" lengthAdjust="spacingAndGlyphs">2.5</text>
<line x1="378.35" y1="364.5" x2="378.35" y2="366.5" stroke="#a9a9a9" stroke-width="0.8"/>
<text x="378.35" y="374" font-family="'Liberation Sans', sans-serif" font-size="8" text-anchor="middle" fill="#1a1a1a" textLength="11.4" lengthAdjust="spacingAndGlyphs">5.0</text>
<line x1="403.52" y1="364.5" x2="403.52" y2="366.5" stroke="#a9a9a9" stroke-width="0.8"/>
<text x="403.52" y="374" font-family="'Liberation Sans', sans-serif" font-size="8" text-anchor="middle" fill="#1a1a1a" textLength="11.4" lengthAdjust="spacingAndGlyphs">7.5</text>
<line x1="428.7" y1="364.5" x2="428.7" y2="366.5" stroke="#a9a9a9" stroke-width="0.8"/>
<text x="428.7" y="374" font-family="'Liberation Sans', sans-serif" font-size="8" text-anchor="middle" fill="#1a1a1a" textLength="15.6" lengthAdjust="spacingAndGlyphs">10.0</text>
<line x1="453.88" y1="364.5" x2="453.88" y2="366.5" stroke="#a9a9a9" stroke-width="0.8"/>
<text x="453.88" y="374" font-family="'Liberation Sans', sans-serif" font-size="8" text-anchor="middle" fill="#1a1a1a" textLength="15.6" lengthAdjust="spacingAndGlyphs">12.5</text>
<line x1="479.05" y1="364.5" x2="479.05" y2="366.5" stroke="#a9a9a9" stroke-width="0.8"/>
<text x="479.05" y="374" font-family="'Liberation Sans', sans-serif" font-size="8" text-anchor="middle" fill="#1a1a1a" textLength="15.6" lengthAdjust="spacingAndGlyphs">15.0</text>
<line x1="504.23" y1="364.5" x2="504.23" y2="366.5" stroke="#a9a9a9" stroke-width="0.8"/>
<text x="504.23" y="374" font-family="'Liberation Sans', sans-serif" font-size="8" text-anchor="middle" fill="#1a1a1a" textLength="15.6" lengthAdjust="spacingAndGlyphs">17.5</text>
<line x1="529.4" y1="364.5" x2="529.4" y2="366.5" stroke="#a9a9a9" stroke-width="0.8"/>
<text x="529.4" y="374" font-family="'Liberation Sans', sans-serif" font-size="8" text-anchor="middle" fill="#1a1a1a" textLength="15.6" lengthAdjust="spacingAndGlyphs">20.0</text>
<path d="M328,220 L338.07,271 L348.14,300.5 L358.21,312.5 L368.28,328 L378.35,311 L388.42,316.5 L398.49,332.3 L408.56,336.5 L418.63,339 L428.7,342 L438.77,349 L448.84,343.3 L458.91,352.5 L468.98,355.5 L479.05,355.5 L489.12,355.5 L499.19,357.2 L509.26,357.2 L519.33,357.5 L529.4,358.2" fill="none" stroke="#0abdff" stroke-width="1.7" stroke-linejoin="round"/>
<circle cx="328" cy="220" r="1.5" fill="#0abdff"/>
<circle cx="338.07" cy="271" r="1.5" fill="#0abdff"/>
<circle cx="348.14" cy="300.5" r="1.5" fill="#0abdff"/>
<circle cx="358.21" cy="312.5" r="1.5" fill="#0abdff"/>
<circle cx="368.28" cy="328" r="1.5" fill="#0abdff"/>
<circle cx="378.35" cy="311" r="1.5" fill="#0abdff"/>
<circle cx="388.42" cy="316.5" r="1.5" fill="#0abdff"/>
<circle cx="398.49" cy="332.3" r="1.5" fill="#0abdff"/>
<circle cx="408.56" cy="336.5" r="1.5" fill="#0abdff"/>
<circle cx="418.63" cy="339" r="1.5" fill="#0abdff"/>
<circle cx="428.7" cy="342" r="1.5" fill="#0abdff"/>
<circle cx="438.77" cy="349" r="1.5" fill="#0abdff"/>
<circle cx="448.84" cy="343.3" r="1.5" fill="#0abdff"/>
<circle cx="458.91" cy="352.5" r="1.5" fill="#0abdff"/>
<circle cx="468.98" cy="355.5" r="1.5" fill="#0abdff"/>
<circle cx="479.05" cy="355.5" r="1.5" fill="#0abdff"/>
<circle cx="489.12" cy="355.5" r="1.5" fill="#0abdff"/>
<circle cx="499.19" cy="357.2" r="1.5" fill="#0abdff"/>
<circle cx="509.26" cy="357.2" r="1.5" fill="#0abdff"/>
<circle cx="519.33" cy="357.5" r="1.5" fill="#0abdff"/>
<circle cx="529.4" cy="358.2" r="1.5" fill="#0abdff"/>
<line x1="369.5" y1="216.7" x2="369.5" y2="368.6" stroke="#ff0000" stroke-width="1.6" stroke-dasharray="3.9 2" stroke-dashoffset="1.3"/>
<line x1="456.7" y1="217.0" x2="456.7" y2="368.6" stroke="#ff720f" stroke-width="1.6" stroke-dasharray="3.9 2" stroke-dashoffset="0.9"/>
<rect x="318" y="213.3" width="221.5" height="151.2" fill="none" stroke="#a9a9a9" stroke-width="1"/>
<text x="279" y="216.3" font-family="'Liberation Serif', serif" font-size="14.5" text-anchor="start" font-style="normal" fill="#1a1a1a" >(d)</text>
<text x="0" y="0" transform="translate(292.2,285.5) rotate(-90)" font-family="'Liberation Sans', sans-serif" font-size="11.8" text-anchor="middle" fill="#1a1a1a" textLength="109" lengthAdjust="spacingAndGlyphs">Crosstalk level (a.u.)</text>
<text x="417.8" y="385.7" font-family="'Liberation Sans', sans-serif" font-size="11.2" text-anchor="start" font-style="italic" fill="#1a1a1a" >d</text>
<text x="424" y="388" font-family="'Liberation Sans', sans-serif" font-size="7.8" text-anchor="start" font-style="italic" fill="#1a1a1a" >p</text>
<text x="429.6" y="385.7" font-family="'Liberation Sans', sans-serif" font-size="11.2" text-anchor="start" font-style="italic" fill="#1a1a1a" >/</text>
<text x="433.2" y="385.7" font-family="'Liberation Sans', sans-serif" font-size="11.2" font-style="italic" fill="#1a1a1a" textLength="6.3" lengthAdjust="spacingAndGlyphs">λ</text>
<text x="372" y="291.3" font-family="'Liberation Serif', serif" font-size="13.3" text-anchor="start" font-style="normal" fill="#1a1a1a" >4</text>
<text x="379.0" y="291.3" font-family="'Liberation Serif', serif" font-size="13.3" font-style="italic" fill="#1a1a1a" textLength="7.6" lengthAdjust="spacingAndGlyphs">λ</text>
<text x="459.0" y="342.9" font-family="'Liberation Serif', serif" font-size="11.2" fill="#1a1a1a">4</text>
<path d="M465.2,339.6 L466.4,338.8 L468.2,343.6" fill="none" stroke="#1a1a1a" stroke-width="0.7"/>
<path d="M468.2,343.6 L474.3,331.8 L487.7,331.8" fill="none" stroke="#1a1a1a" stroke-width="0.95"/>
<text x="473.6" y="342.9" font-family="'Liberation Serif', serif" font-size="11.4" font-style="italic" fill="#1a1a1a" textLength="13.4" lengthAdjust="spacingAndGlyphs">λZ</text>
</svg>
</body></html>
